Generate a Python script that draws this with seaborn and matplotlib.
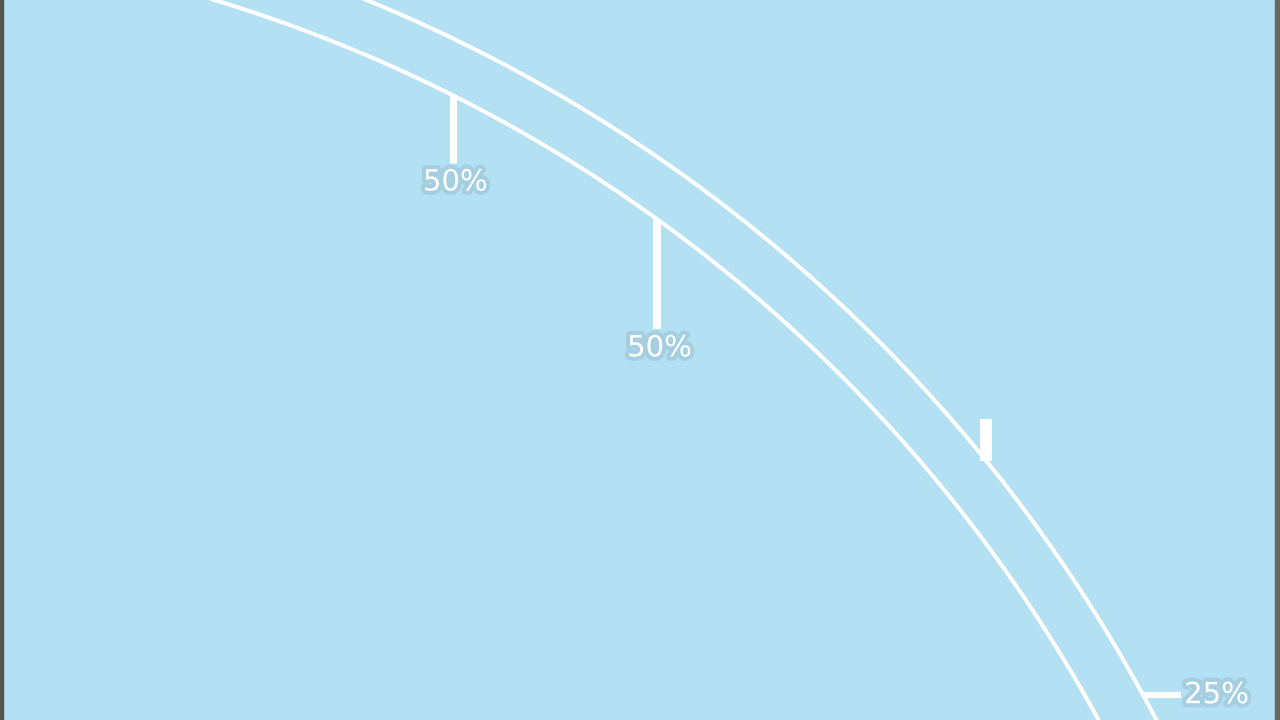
import matplotlib
matplotlib.use("Agg")
import matplotlib.pyplot as plt
import matplotlib.patheffects as pe
from matplotlib.patches import Rectangle
import numpy as np
import pandas as pd
import seaborn as sns

# ring radii (same units as the view, centre of the circle at 0, 0)
ring_names = ["inner", "outer"]
ring_radius = [1505, 1556]

# tick marks: which ring, angle on the ring (degrees), label
tick_ring = ["inner", "inner", "outer", "outer"]
tick_angle = [63.3, 54.2, 39.0, 28.6]
tick_label = ["50%", "50%", "", "25%"]

# styling of each tick (direction it points, length, width in pt)
tick_dir = ["down", "down", "up", "right"]
tick_len = [68, 110, 42, 38]
tick_width = [5.0, 5.8, 8.5, 4.5]

BG = "#b3e0f2"

sns.set_theme(style="white", rc={"axes.facecolor": BG, "figure.facecolor": BG})
plt.rcParams["font.family"] = ["DejaVu Sans"]

fig = plt.figure(figsize=(12.8, 7.2), dpi=100)
ax = fig.add_axes([0, 0, 1, 1])

# view window: the circle centre sits off-canvas to the lower left
ax.set_xlim(223, 1503)
ax.set_ylim(720, 1440)

theta = np.radians(np.linspace(15, 80, 400))
arcs = pd.DataFrame({
    "ring": np.repeat(ring_names, len(theta)),
    "x": np.concatenate([r * np.cos(theta) for r in ring_radius]),
    "y": np.concatenate([r * np.sin(theta) for r in ring_radius]),
})
sns.lineplot(data=arcs, x="x", y="y", units="ring", estimator=None,
             sort=False, color="white", linewidth=2.9, ax=ax, legend=False)

radius_of = dict(zip(ring_names, ring_radius))
halo = [pe.withStroke(linewidth=6, foreground="#86a9ba", alpha=0.3)]

for ring, ang, lab, d, length, w in zip(tick_ring, tick_angle, tick_label,
                                        tick_dir, tick_len, tick_width):
    r = radius_of[ring]
    x0 = r * np.cos(np.radians(ang))
    y0 = r * np.sin(np.radians(ang))
    if d == "down":
        x1, y1 = x0, y0 - length
        ax.plot([x0, x1], [y0, y1], color="white", lw=w, solid_capstyle="butt")
        if lab:
            ax.text(x1 + 2, y1 - 19, lab, color="white", fontsize=21,
                    ha="center", va="center", path_effects=halo)
    elif d == "up":
        x1, y1 = x0, y0 + length
        ax.plot([x0, x1], [y0, y1], color="white", lw=w, solid_capstyle="butt")
    else:
        x1, y1 = x0 + length, y0
        ax.plot([x0, x1], [y0, y1], color="white", lw=w, solid_capstyle="butt")
        if lab:
            ax.text(x1 + 3, y1, lab, color="white", fontsize=21,
                    ha="left", va="center", path_effects=halo)

ax.set_axis_off()

# dark frame edges on left and right
fig.add_artist(Rectangle((0, 0), 3 / 1280, 1, transform=fig.transFigure,
                         color="#55554d", zorder=10))
fig.add_artist(Rectangle((1275 / 1280, 0), 5 / 1280, 1, transform=fig.transFigure,
                         color="#6b6660", zorder=10))

plt.savefig("out.png", dpi=100, facecolor=BG)
plt.close()
